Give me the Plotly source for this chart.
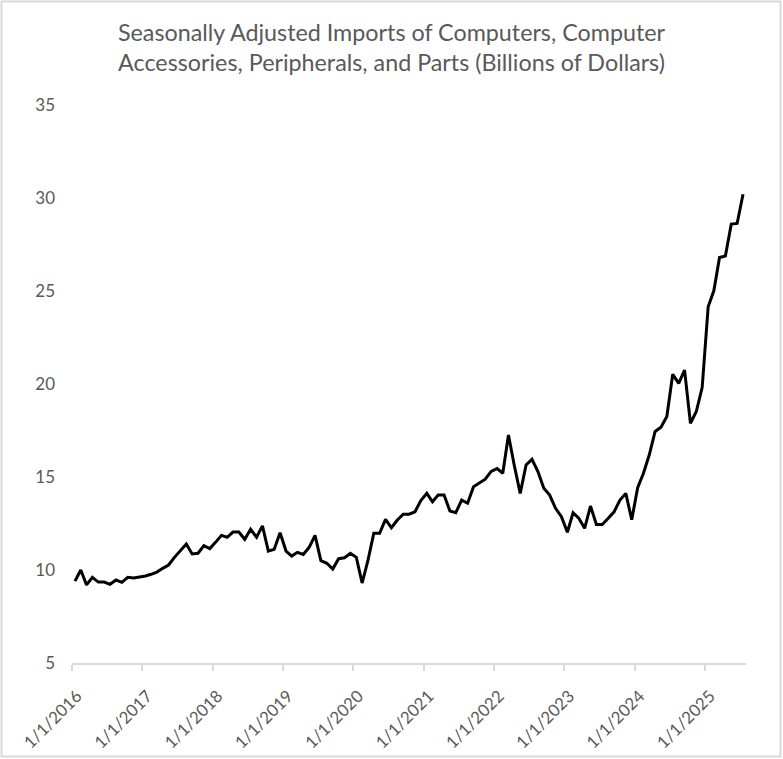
import plotly.graph_objects as go
import pandas as pd

title_text = "Seasonally Adjusted Imports of Computers, Computer<br>Accessories, Peripherals, and Parts (Billions of Dollars)"

start_month = "2016-01-01"
values = [
    # 2016
    9.4, 10.0, 9.2, 9.6, 9.35, 9.35, 9.23, 9.46, 9.34, 9.61, 9.57, 9.61,
    # 2017
    9.68, 9.77, 9.89, 10.09, 10.27, 10.68, 11.02, 11.4, 10.86, 10.9, 11.31, 11.15,
    # 2018
    11.5, 11.86, 11.76, 12.04, 12.04, 11.65, 12.19, 11.76, 12.37, 11.02, 11.11, 12.0,
    # 2019
    11.02, 10.75, 10.95, 10.84, 11.22, 11.86, 10.5, 10.36, 10.05, 10.61, 10.66, 10.9,
    # 2020
    10.68, 9.3, 10.5, 11.97, 11.97, 12.72, 12.27, 12.69, 13.0, 13.0, 13.13, 13.73,
    # 2021
    14.12, 13.67, 14.03, 14.03, 13.17, 13.08, 13.76, 13.59, 14.48, 14.68, 14.88, 15.3,
    # 2022
    15.45, 15.2, 17.26, 15.6, 14.12, 15.65, 15.95, 15.29, 14.39, 14.03, 13.32, 12.87,
    # 2023
    12.03, 13.08, 12.78, 12.24, 13.44, 12.45, 12.45, 12.78, 13.13, 13.76, 14.12, 12.7,
    # 2024
    14.42, 15.2, 16.18, 17.45, 17.68, 18.25, 20.52, 20.03, 20.75, 17.89, 18.52, 19.82,
    # 2025
    24.15, 25.01, 26.8, 26.88, 28.6, 28.63, 30.2,
]
dates = pd.date_range(start_month, periods=len(values), freq="MS")

y_ticks = [5, 10, 15, 20, 25, 30, 35]
x_range = ["2016-01-01", "2025-08-01"]

W, H = 783, 759
ml, mr, mt, mb = 72, 37, 105, 96
pw, ph = W - ml - mr, H - mt - mb

fig = go.Figure()
fig.add_trace(go.Scatter(
    x=dates, y=values, mode="lines",
    xperiod="M1", xperiodalignment="middle",
    line=dict(color="#000000", width=3),
    hoverinfo="x+y",
))

grey = "#595959"
fig.update_layout(
    width=W, height=H,
    margin=dict(l=ml, r=mr, t=mt, b=mb, autoexpand=False),
    paper_bgcolor="white", plot_bgcolor="white",
    showlegend=False,
    font=dict(family="Lato", color=grey),
)
# title as annotation (centered on the whole chart)
title_cx = (W / 2 - ml) / pw
title_cy = (H - mb - 47) / ph
fig.add_annotation(text=title_text, xref="paper", yref="paper",
                   x=title_cx, y=title_cy, xanchor="center", yanchor="middle",
                   showarrow=False, align="center",
                   font=dict(family="Lato", size=23.3, color=grey))

fig.update_xaxes(
    type="date", range=x_range, automargin=False,
    tick0="2016-01-01", dtick="M12", tickformat="%-m/%-d/%Y",
    tickangle=-45, tickfont=dict(family="Lato", size=16.8, color=grey),
    ticklabelstandoff=9, ticklabelshift=5,
    showline=True, linecolor="#d9d9d9", linewidth=1.5,
    ticks="outside", ticklen=6, tickcolor="#d9d9d9", tickwidth=1.5,
    showgrid=False, zeroline=False,
)
fig.update_yaxes(
    range=[5, 35], tickvals=y_ticks, automargin=False,
    tickfont=dict(family="Lato", size=17, color=grey),
    showline=False, showgrid=False, zeroline=False,
    ticks="", ticklabelstandoff=16,
)

# chart-area border
x0 = (1.5 - ml) / pw
x1 = (W - 2.5 - ml) / pw
y1 = (H - mb - 1.5) / ph
y0 = (H - mb - (H - 2.5)) / ph
fig.add_shape(type="rect", xref="paper", yref="paper",
              x0=x0, x1=x1, y0=y0, y1=y1,
              line=dict(color="#d9d9d9", width=2), layer="above")

fig.write_html("out.html")
